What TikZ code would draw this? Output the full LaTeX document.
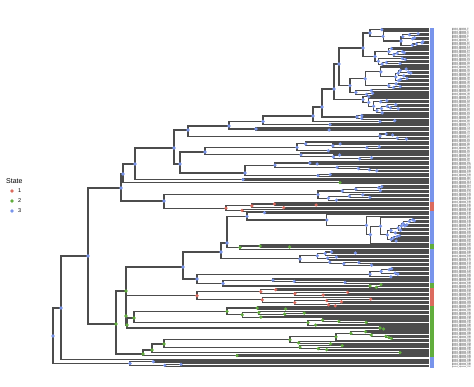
\documentclass[tikz,border=0pt]{standalone}
\usepackage{fontspec}
\setmainfont{Liberation Sans}
\usetikzlibrary{calc}
\definecolor{state1}{rgb}{0.86,0.42,0.37}
\definecolor{state2}{rgb}{0.38,0.68,0.24}
\definecolor{state3}{rgb}{0.47,0.58,0.92}
\definecolor{branch}{gray}{0.3}
\pgfdeclarelayer{foreground layer}
\pgfsetlayers{main,foreground layer}
\tikzset{
  br/.style={draw=branch,line width=1.05pt},
  dot/.style={circle,inner sep=0pt,minimum size=3.6pt},
  tiplab/.style={anchor=west,inner sep=0pt,text=black!75,font=\fontsize{2.1}{2.2}\selectfont}
}
\newcommand\tipgap{1.35}
\newcommand\tipx{429}
\newcommand\subtree[3]{%
  \begingroup
  \pgfmathtruncatemacro\nn{round((#3-#2)/\tipgap)}%
  \ifnum\nn<1
    \draw[br] (#1,#2) -- (\tipx,#2);%
    \xdef\ry{#2}%
  \else
    \pgfmathtruncatemacro\kk{min(int(rnd*\nn),\nn-1)}%
    \pgfmathsetmacro\ea{#2+\kk*\tipgap}%
    \pgfmathsetmacro\tb{#2+(\kk+1)*\tipgap}%
    \pgfmathsetmacro\xa{#1+(\tipx-#1)*(0.06+0.45*rnd*rnd)}%
    \pgfmathsetmacro\xb{#1+(\tipx-#1)*(0.06+0.45*rnd*rnd)}%
    \edef\nxt{\noexpand\subtree{\xa}{#2}{\ea}}\nxt
    \let\ya\ry
    \edef\nxt{\noexpand\subtree{\xb}{\tb}{#3}}\nxt
    \let\yb\ry
    \draw[br] (\xa,\ya) -| (#1,\yb) -- (\xb,\yb);%
    \pgfmathsetmacro\ym{(\ya+\yb)/2}%
    \begin{pgfonlayer}{foreground layer}\node[dot,fill=\stc] at (#1,\ym) {};\end{pgfonlayer}%
    \xdef\ry{\ym}%
  \fi
  \endgroup}
\newcommand\clade[5]{\def\stc{#5}\subtree{#2}{#3}{#4}\coordinate (#1) at (#2,\ry);}

\begin{document}
\begin{tikzpicture}[x=1pt,y=-1pt]
  \useasboundingbox (0,0) rectangle (474,387);
  \pgfmathsetseed{3}

  \clade{k1}{370}{29}{47}{state3}
  \clade{k2}{375}{48}{66}{state3}
  \clade{k3}{350}{67}{95}{state3}
  \clade{k4}{363}{96}{114}{state3}
  \clade{k5}{357}{115}{119}{state3}
  \clade{k6}{380}{120}{123}{state3}
  \clade{k7}{330}{124}{126}{state3}
  \clade{k8}{256}{128}{131}{state3}
  \clade{k9}{380}{133}{140}{state3}
  \clade{k10}{297}{142}{151}{state3}
  \clade{k11}{301}{153}{160}{state3}
  \clade{k12}{275}{162}{172}{state3}
  \clade{k13}{318}{174}{177}{state3}
  \clade{k14}{243}{179}{181}{state3}
  \clade{k15}{340}{182}{184}{state2}
  \clade{k16}{318}{186}{201}{state3}
  \clade{k17}{226}{203}{211}{state1}
  \clade{k18}{247}{212}{243}{state3}
  \clade{k19}{240}{245}{249}{state2}
  \clade{k20}{300}{251}{266}{state3}
  \clade{k21}{370}{268}{277}{state3}
  \clade{k22}{273}{279}{283}{state3}
  \clade{k23}{370}{284}{288}{state2}
  \clade{k24}{197}{289}{306}{state1}
  \clade{k25}{227}{307}{318}{state2}
  \clade{k26}{308}{319}{326}{state2}
  \clade{k27}{380}{327}{330}{state2}
  \clade{k28}{290}{331}{344}{state2}
  \clade{k29}{300}{345}{351}{state2}
  \clade{k30}{400}{352}{354}{state2}
  \clade{k31}{237}{355}{357}{state2}
  \clade{k32}{130}{361}{367}{state3}
  \coordinate (t360) at (\tipx,359.5);

  \coordinate (R) at (53,336);
  \coordinate (A) at (61,308);
  \coordinate (C) at (88,256);
  \coordinate (D) at (121,188);
  \coordinate (D1) at (123,174);
  \coordinate (D2) at (135,164);
  \coordinate (D3) at (174,148);
  \coordinate (F1) at (188,130);
  \coordinate (F2) at (180,164);
  \coordinate (N205) at (205,152);
  \coordinate (N245) at (245,173);
  \coordinate (N229) at (229,126);
  \coordinate (N263) at (263,121.5);
  \coordinate (N313) at (313,116);
  \coordinate (N322) at (322,107);
  \coordinate (N334) at (334,89);
  \coordinate (N339) at (339,64);
  \coordinate (N363) at (363,48);
  \coordinate (E) at (164,201);
  \coordinate (G) at (116,324);
  \coordinate (G2) at (126,291);
  \coordinate (N183) at (183,267);
  \coordinate (N221) at (221,252);
  \coordinate (N227) at (227,243);
  \coordinate (N197) at (197,279);
  \coordinate (N223) at (223,283.5);
  \coordinate (G3) at (126,316);
  \coordinate (G4) at (127,325);
  \coordinate (N134) at (134,318);
  \coordinate (G5) at (143,354);
  \coordinate (G6) at (152,350);
  \coordinate (G7) at (164,344);

  \foreach \p/\c in {R/A,R/k32,A/C,A/t360,C/D,C/G,D/D1,D/E,D1/D2,D1/k15,D2/D3,D2/k14,
    D3/F1,D3/F2,F1/N229,F1/k9,N229/N263,N229/k8,N263/N313,N263/k7,N313/N322,N313/k6,
    N322/N334,N322/k5,N334/N339,N334/k4,N339/N363,N339/k3,N363/k1,N363/k2,
    F2/N205,F2/N245,N205/k10,N205/k11,N245/k12,N245/k13,E/k16,E/k17,
    G/G2,G/G5,G2/N183,G2/G3,N183/N221,N183/N197,N221/N227,N221/k20,N227/k18,N227/k19,
    N197/k21,N197/N223,N223/k22,N223/k23,G3/k24,G3/G4,G4/N134,G4/k27,N134/k25,N134/k26,
    G5/G6,G5/k31,G6/G7,G6/k30,G7/k28,G7/k29}
    \draw[br] (\p) |- (\c);

  \begin{pgfonlayer}{foreground layer}
  \foreach \n/\s in {R/state3,A/state3,C/state3,D/state3,D1/state3,D2/state3,D3/state3,
    F1/state3,F2/state3,N205/state3,N245/state3,N229/state3,N263/state3,N313/state3,
    N322/state3,N334/state3,N339/state3,N363/state3,E/state3,G/state2,G2/state2,
    N183/state3,N221/state3,N227/state3,N197/state3,N223/state3,G3/state2,G4/state2,
    N134/state2,G5/state2,G6/state2,G7/state2}
    \node[dot,fill=\s] at (\n) {};
  \end{pgfonlayer}

  \fill[state3] (430,28.5) rectangle (433.5,202.5);
  \fill[state1] (430,202.5) rectangle (433.5,211.5);
  \fill[state3] (430,211.5) rectangle (433.5,244.5);
  \fill[state2] (430,244.5) rectangle (433.5,249.5);
  \fill[state3] (430,249.5) rectangle (433.5,283.5);
  \fill[state2] (430,283.5) rectangle (433.5,288.5);
  \fill[state1] (430,288.5) rectangle (433.5,306.5);
  \fill[state2] (430,306.5) rectangle (433.5,357.5);
  \fill[state3] (430,357.5) rectangle (433.5,367.5);

  \foreach \i in {0,...,250}
    \node[tiplab] (lab\i) at (452,29+1.35*\i) {genus\_species\_\i};

  \node[anchor=west,inner sep=0pt,font=\fontsize{7}{8}\selectfont] (legtitle) at (6,181) {State};
  \foreach \s/\k [count=\j] in {state1/1,state2/2,state3/3}{
    \node[dot,fill=\s] (leg\k) at (12,181+10*\j) {};
    \node[anchor=west,inner sep=0pt,font=\fontsize{5.5}{6}\selectfont] (legtxt\k) at (18,181+10*\j) {\k};
  }
\end{tikzpicture}
\end{document}
